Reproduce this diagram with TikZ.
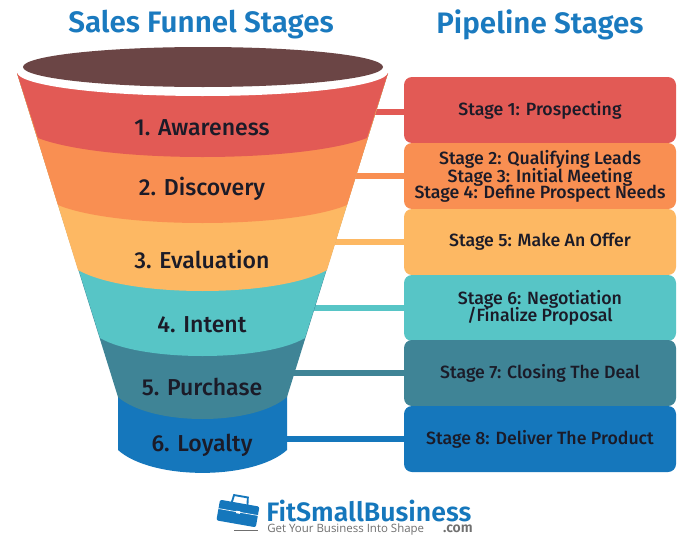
\documentclass[tikz,border=0pt]{standalone}
\usepackage{fontspec}
\setmainfont{Fira Sans Medium}
\newfontfamily\titlef{Fira Sans SemiBold}
\newfontfamily\logof{Open Sans}
\definecolor{cRed}{HTML}{E25A55}
\definecolor{cOrange}{HTML}{F98F52}
\definecolor{cYellow}{HTML}{FDB863}
\definecolor{cTeal}{HTML}{57C5C6}
\definecolor{cDeep}{HTML}{3F8496}
\definecolor{cBlue}{HTML}{1577BC}
\definecolor{cRim}{HTML}{6B4545}
\definecolor{cTitle}{HTML}{1A7ABF}
\definecolor{cInk}{HTML}{1B1B28}
\definecolor{cGray}{HTML}{6F6F6F}
\tikzset{
  x=0.75pt,y=-0.75pt,
  stagebox/.style={rounded corners=6pt,minimum width=204pt,minimum height=49.5pt,inner sep=0pt},
  stagetext/.style={inner sep=0pt,align=center,text=cInk,font=\fontsize{13.3}{12.7}\selectfont},
  bandlabel/.style={text=cInk,inner sep=0pt,font=\fontsize{17.3}{17.3}\selectfont},
  headline/.style={text=cTitle,inner sep=0pt,font=\titlef\fontsize{22.2}{22.2}\selectfont},
  link/.style={line width=4pt}
}
% #1 colour, #2 left x, #3 right x, #4 edge y, #5 depth
\newcommand{\bandbelow}[5]{%
  \fill[#1] (17,73) -- (388,73) -- (#3,#4) .. controls ({#3-0.2*(#3-#2)},{#4+#5*4/3}) and ({#2+0.2*(#3-#2)},{#4+#5*4/3}) .. (#2,#4) -- cycle;}
\begin{document}
\begin{tikzpicture}
\useasboundingbox (0,0) rectangle (690,543);
\fill[white] (0,0) rectangle (690,543);
% titles
\node[headline] (t1) at (201,25) {Sales Funnel Stages};
\node[headline] (t2) at (540,25) {Pipeline Stages};
% stage boxes
\node[stagebox,fill=cRed] (b1) at (540,110) {};
\node[stagebox,fill=cOrange] (b2) at (540,176) {};
\node[stagebox,fill=cYellow] (b3) at (540,242) {};
\node[stagebox,fill=cTeal] (b4) at (540,308) {};
\node[stagebox,fill=cDeep] (b5) at (540,373) {};
\node[stagebox,fill=cBlue] (b6) at (540,439) {};
% connector ends inside the funnel
\coordinate (c1) at (360,112);
\coordinate (c2) at (340,176);
\coordinate (c3) at (320,242);
\coordinate (c4) at (300,308);
\coordinate (c5) at (280,373);
\coordinate (c6) at (280,439);
\draw[link,cRed] (c1) -- (b1.west |- c1);
\draw[link,cOrange] (c2) -- (b2.west |- c2);
\draw[link,cYellow] (c3) -- (b3.west |- c3);
\draw[link,cTeal] (c4) -- (b4.west |- c4);
\draw[link,cDeep] (c5) -- (b5.west |- c5);
\draw[link,cBlue] (c6) -- (b6.west |- c6);
% funnel, bottom to top
\fill[cBlue] (118,380) -- (287,380) -- (287,450) .. controls (253,480.5) and (152,480.5) .. (118,450) -- cycle;
\bandbelow{cDeep}{118}{287}{397}{22}
\bandbelow{cTeal}{100}{305}{338}{18}
\bandbelow{cYellow}{78}{327}{270}{21}
\bandbelow{cOrange}{58}{347}{205}{18}
\bandbelow{cRed}{38}{367}{138}{19}
\fill[white] (202.5,72) ellipse [x radius=185.5, y radius=24];
\fill[cRim] (203,67) ellipse [x radius=180, y radius=20];
% funnel labels
\node[bandlabel] (l1) at (202,128) {1. Awareness};
\node[bandlabel] (l2) at (202,188.5) {2. Discovery};
\node[bandlabel] (l3) at (202,259) {3. Evaluation};
\node[bandlabel] (l4) at (202,325) {4. Intent};
\node[bandlabel] (l5) at (202,387) {5. Purchase};
\node[bandlabel] (l6) at (202,445.5) {6. Loyalty};
% box texts
\node[stagetext] (x1) at (540,110.5) {Stage 1: Prospecting};
\node[stagetext] (x2) at (540,176.5) {Stage 2: Qualifying Leads\\[-1.5pt]Stage 3: Initial Meeting\\[-1.5pt]Stage 4: Define Prospect Needs};
\node[stagetext] (x3) at (540,241.5) {Stage 5: Make An Offer};
\node[stagetext] (x4) at (540,308) {Stage 6: Negotiation\\[-1.5pt]/Finalize Proposal};
\node[stagetext] (x5) at (540,373.5) {Stage 7: Closing The Deal};
\node[stagetext] (x6) at (540,439.5) {Stage 8: Deliver The Product};
% logo
\begin{scope}[rotate around={-10:(238,513)}]
  \draw[cBlue,line width=1.4pt] (230,504) -- (231,496) -- (245,496) -- (246,504);
  \fill[cBlue,rounded corners=1.5pt] (218,503) rectangle (258,524);
  \draw[white,line width=0.5pt] (218,512) -- (258,512);
  \fill[white] (236,511) rectangle (240,513.5);
\end{scope}
\draw[cGray,line width=1pt] (234,530.5) -- (258,530.5);
\node[anchor=west,inner sep=0pt,text=cBlue,font=\titlef\fontsize{20}{20}\selectfont] (lg) at (266,511.5) {FitSmallBusiness};
\node[anchor=west,inner sep=0pt,text=cGray,font=\logof\fontsize{8.6}{8.6}\selectfont] (tg) at (267,530) {Get Your Business Into Shape};
\node[anchor=east,inner sep=0pt,text=cGray,font=\titlef\fontsize{10.5}{10.5}\selectfont] (cm) at (473,529) {.com};
\end{tikzpicture}
\end{document}
